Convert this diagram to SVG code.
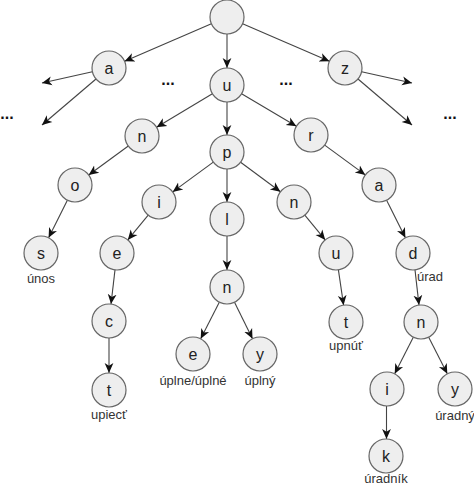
<svg xmlns="http://www.w3.org/2000/svg" width="474" height="486" viewBox="0 0 474 486">
<defs>
<style>
.nd circle{fill:#eeeeee;stroke:#666666;stroke-width:1.2}
.nd text{font-family:"Liberation Sans",Arial,sans-serif;font-size:16px;fill:#222222;text-anchor:middle;dominant-baseline:central}
.lb{font-family:"Liberation Sans",Arial,sans-serif;font-size:13px;fill:#333333;text-anchor:middle}
.dots{font-family:"Liberation Sans",Arial,sans-serif;font-size:16px;font-weight:bold;fill:#111111;text-anchor:middle}
#edges line{stroke:#444444;stroke-width:1.1;marker-end:url(#arr)}
</style>
<marker id="arr" markerUnits="userSpaceOnUse" markerWidth="11" markerHeight="11" viewBox="0 0 10 10" refX="9" refY="5" orient="auto">
<path d="M0,1 L9,5 L0,9 L2.5,5 Z" fill="#111111"/>
</marker>
</defs>
<rect width="474" height="486" fill="#ffffff"/>
<g id="edges">
<line x1="211.4" y1="23.7" x2="124.6" y2="61.3"/>
<line x1="227" y1="34" x2="227" y2="68"/>
<line x1="242.6" y1="23.7" x2="329.4" y2="61.3"/>
<line x1="92.4" y1="71.7" x2="42" y2="83"/>
<line x1="96" y1="79" x2="42" y2="125"/>
<line x1="361.6" y1="71.7" x2="412" y2="83"/>
<line x1="358" y1="79" x2="412" y2="125"/>
<line x1="212.4" y1="93.8" x2="156.6" y2="127.2"/>
<line x1="227" y1="102" x2="227" y2="135"/>
<line x1="241.6" y1="93.7" x2="296.4" y2="126.3"/>
<line x1="128.3" y1="146" x2="88.7" y2="175"/>
<line x1="67.4" y1="200.2" x2="48.6" y2="237.8"/>
<line x1="213.3" y1="162.1" x2="172.7" y2="191.9"/>
<line x1="227" y1="169" x2="227" y2="202"/>
<line x1="240.6" y1="162.2" x2="280.4" y2="191.8"/>
<line x1="324.7" y1="145.1" x2="365.3" y2="174.9"/>
<line x1="148.2" y1="215.1" x2="127.8" y2="239.9"/>
<line x1="227" y1="236" x2="227" y2="270"/>
<line x1="304.8" y1="215.1" x2="325.2" y2="239.9"/>
<line x1="386.6" y1="200.2" x2="405.4" y2="237.8"/>
<line x1="115" y1="269.9" x2="111" y2="304.1"/>
<line x1="219.3" y1="302.2" x2="200.7" y2="338.8"/>
<line x1="234.5" y1="302.2" x2="252.5" y2="338.8"/>
<line x1="338.4" y1="269.8" x2="343.6" y2="305.2"/>
<line x1="415" y1="269.9" x2="419" y2="305.1"/>
<line x1="109" y1="338" x2="109" y2="373"/>
<line x1="413.3" y1="337.2" x2="394.7" y2="373.8"/>
<line x1="428.7" y1="337.2" x2="447.3" y2="373.8"/>
<line x1="386.5" y1="406" x2="386.5" y2="439"/>
</g>
<g id="n-root" class="nd"><circle cx="227" cy="17" r="17"/></g>
<g id="n-a" class="nd"><circle cx="109" cy="68" r="17"/><text x="109" y="68">a</text></g>
<g id="n-u" class="nd"><circle cx="227" cy="85" r="17"/><text x="227" y="85">u</text></g>
<g id="n-z" class="nd"><circle cx="345" cy="68" r="17"/><text x="345" y="68">z</text></g>
<g id="n-un" class="nd"><circle cx="142" cy="136" r="17"/><text x="142" y="136">n</text></g>
<g id="n-up" class="nd"><circle cx="227" cy="152" r="17"/><text x="227" y="152">p</text></g>
<g id="n-ur" class="nd"><circle cx="311" cy="135" r="17"/><text x="311" y="135">r</text></g>
<g id="n-uno" class="nd"><circle cx="75" cy="185" r="17"/><text x="75" y="185">o</text></g>
<g id="n-upi" class="nd"><circle cx="159" cy="202" r="17"/><text x="159" y="202">i</text></g>
<g id="n-upl" class="nd"><circle cx="227" cy="219" r="17"/><text x="227" y="219">l</text></g>
<g id="n-upn" class="nd"><circle cx="294" cy="202" r="17"/><text x="294" y="202">n</text></g>
<g id="n-ura" class="nd"><circle cx="379" cy="185" r="17"/><text x="379" y="185">a</text></g>
<g id="n-unos" class="nd"><circle cx="41" cy="253" r="17"/><text x="41" y="253">s</text></g>
<g id="n-upie" class="nd"><circle cx="117" cy="253" r="17"/><text x="117" y="253">e</text></g>
<g id="n-upln" class="nd"><circle cx="227" cy="287" r="17"/><text x="227" y="287">n</text></g>
<g id="n-upnu" class="nd"><circle cx="336" cy="253" r="17"/><text x="336" y="253">u</text></g>
<g id="n-urad" class="nd"><circle cx="413" cy="253" r="17"/><text x="413" y="253">d</text></g>
<g id="n-upiec" class="nd"><circle cx="109" cy="321" r="17"/><text x="109" y="321">c</text></g>
<g id="n-uplne" class="nd"><circle cx="193" cy="354" r="17"/><text x="193" y="354">e</text></g>
<g id="n-uplny" class="nd"><circle cx="260" cy="354" r="17"/><text x="260" y="354">y</text></g>
<g id="n-upnut" class="nd"><circle cx="346" cy="322" r="17"/><text x="346" y="322">t</text></g>
<g id="n-uradn" class="nd"><circle cx="421" cy="322" r="17"/><text x="421" y="322">n</text></g>
<g id="n-upiect" class="nd"><circle cx="109" cy="390" r="17"/><text x="109" y="390">t</text></g>
<g id="n-uradni" class="nd"><circle cx="387" cy="389" r="17"/><text x="387" y="389">i</text></g>
<g id="n-uradny" class="nd"><circle cx="455" cy="389" r="17"/><text x="455" y="389">y</text></g>
<g id="n-uradnik" class="nd"><circle cx="386" cy="456" r="17"/><text x="386" y="456">k</text></g>
<g id="labels">
<text class="lb" x="41" y="283">únos</text>
<text class="lb" x="417" y="281" style="text-anchor:start">úrad</text>
<text class="lb" x="109" y="419">upiecť</text>
<text class="lb" x="193" y="385">úplne/úplné</text>
<text class="lb" x="260" y="385">úplný</text>
<text class="lb" x="346" y="350">upnúť</text>
<text class="lb" x="455" y="420">úradný</text>
<text class="lb" x="386" y="483">úradník</text>
<text class="dots" x="168" y="85">...</text>
<text class="dots" x="286" y="85">...</text>
<text class="dots" x="7" y="119">...</text>
<text class="dots" x="450" y="119">...</text>
</g>
</svg>
